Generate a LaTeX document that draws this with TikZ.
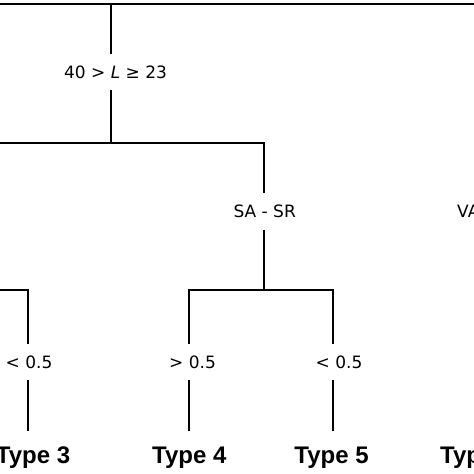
\documentclass[tikz,border=0pt]{standalone}
\usepackage{fontspec}
\setmainfont{DejaVu Sans}
\newfontfamily\typefont{Liberation Sans}
\usepackage{tikz}
\tikzset{
  br/.style={draw=black, line width=2.7pt, line join=miter},               % branch line
  cond/.style={font=\fontsize{17}{19}\selectfont, text height=12.3pt,
               text depth=0pt, inner xsep=1pt, inner ysep=12pt},          % split condition
  leaf/.style={font=\typefont\bfseries\fontsize{24}{28}\selectfont,
               text height=17pt, text depth=0pt, inner xsep=0pt, inner ysep=15pt},
}

\begin{document}
\begin{tikzpicture}[x=1pt, y=-1pt]
  \useasboundingbox (0,0) rectangle (474,474);
  \clip (0,0) rectangle (474,474);
  % ---------------- junctions ----------------
  \coordinate (e0) at (-5,4);   \coordinate (f0) at (480,4);
  \coordinate (j1) at (111,4);  \coordinate (s1) at (111,143);
  \coordinate (e1) at (-5,143); \coordinate (k1) at (264,143);
  \coordinate (j2) at (264,290);
  \coordinate (e3) at (-5,290); \coordinate (p3) at (28,290);
  \coordinate (p4) at (189,290); \coordinate (p5) at (333,290);
  % ---------------- labels ----------------
  \node[cond] (n1) at (115.5,72)  {40 > \textit{L} ≥ 23};
  \node[cond] (n2) at (264.7,211.5) {SA - SR};
  \node[cond, anchor=west, inner xsep=0pt] (n6) at (457,211.5) {VA};
  \node[cond] (n3) at (29,362)    {< 0.5};
  \node[cond] (n4) at (192.5,362) {> 0.5};
  \node[cond] (n5) at (339,362)   {< 0.5};
  \node[leaf] (t3) at (33,454.7)    {Type 3};
  \node[leaf] (t4) at (189.3,454.7) {Type 4};
  \node[leaf] (t5) at (331.5,454.7) {Type 5};
  \node[leaf, anchor=west] (t6) at (440,454.7) {Typ};
  % ---------------- branches ----------------
  \draw[br] (e0) -- (f0);
  \draw[br] (j1) -- (j1 |- n1.north);
  \draw[br] (j1 |- n1.south) -- (s1);
  \draw[br] (e1) -- (k1) -- (k1 |- n2.north);
  \draw[br] (k1 |- n2.south) -- (j2);
  \draw[br] (p4 |- n4.north) -- (p4) -- (p5) -- (p5 |- n5.north);
  \draw[br] (e3) -- (p3) -- (p3 |- n3.north);
  \foreach \p/\n/\t in {p3/n3/t3, p4/n4/t4, p5/n5/t5}
    \draw[br] (\p |- \n.south) -- (\p |- \t.north);
\end{tikzpicture}
\end{document}
